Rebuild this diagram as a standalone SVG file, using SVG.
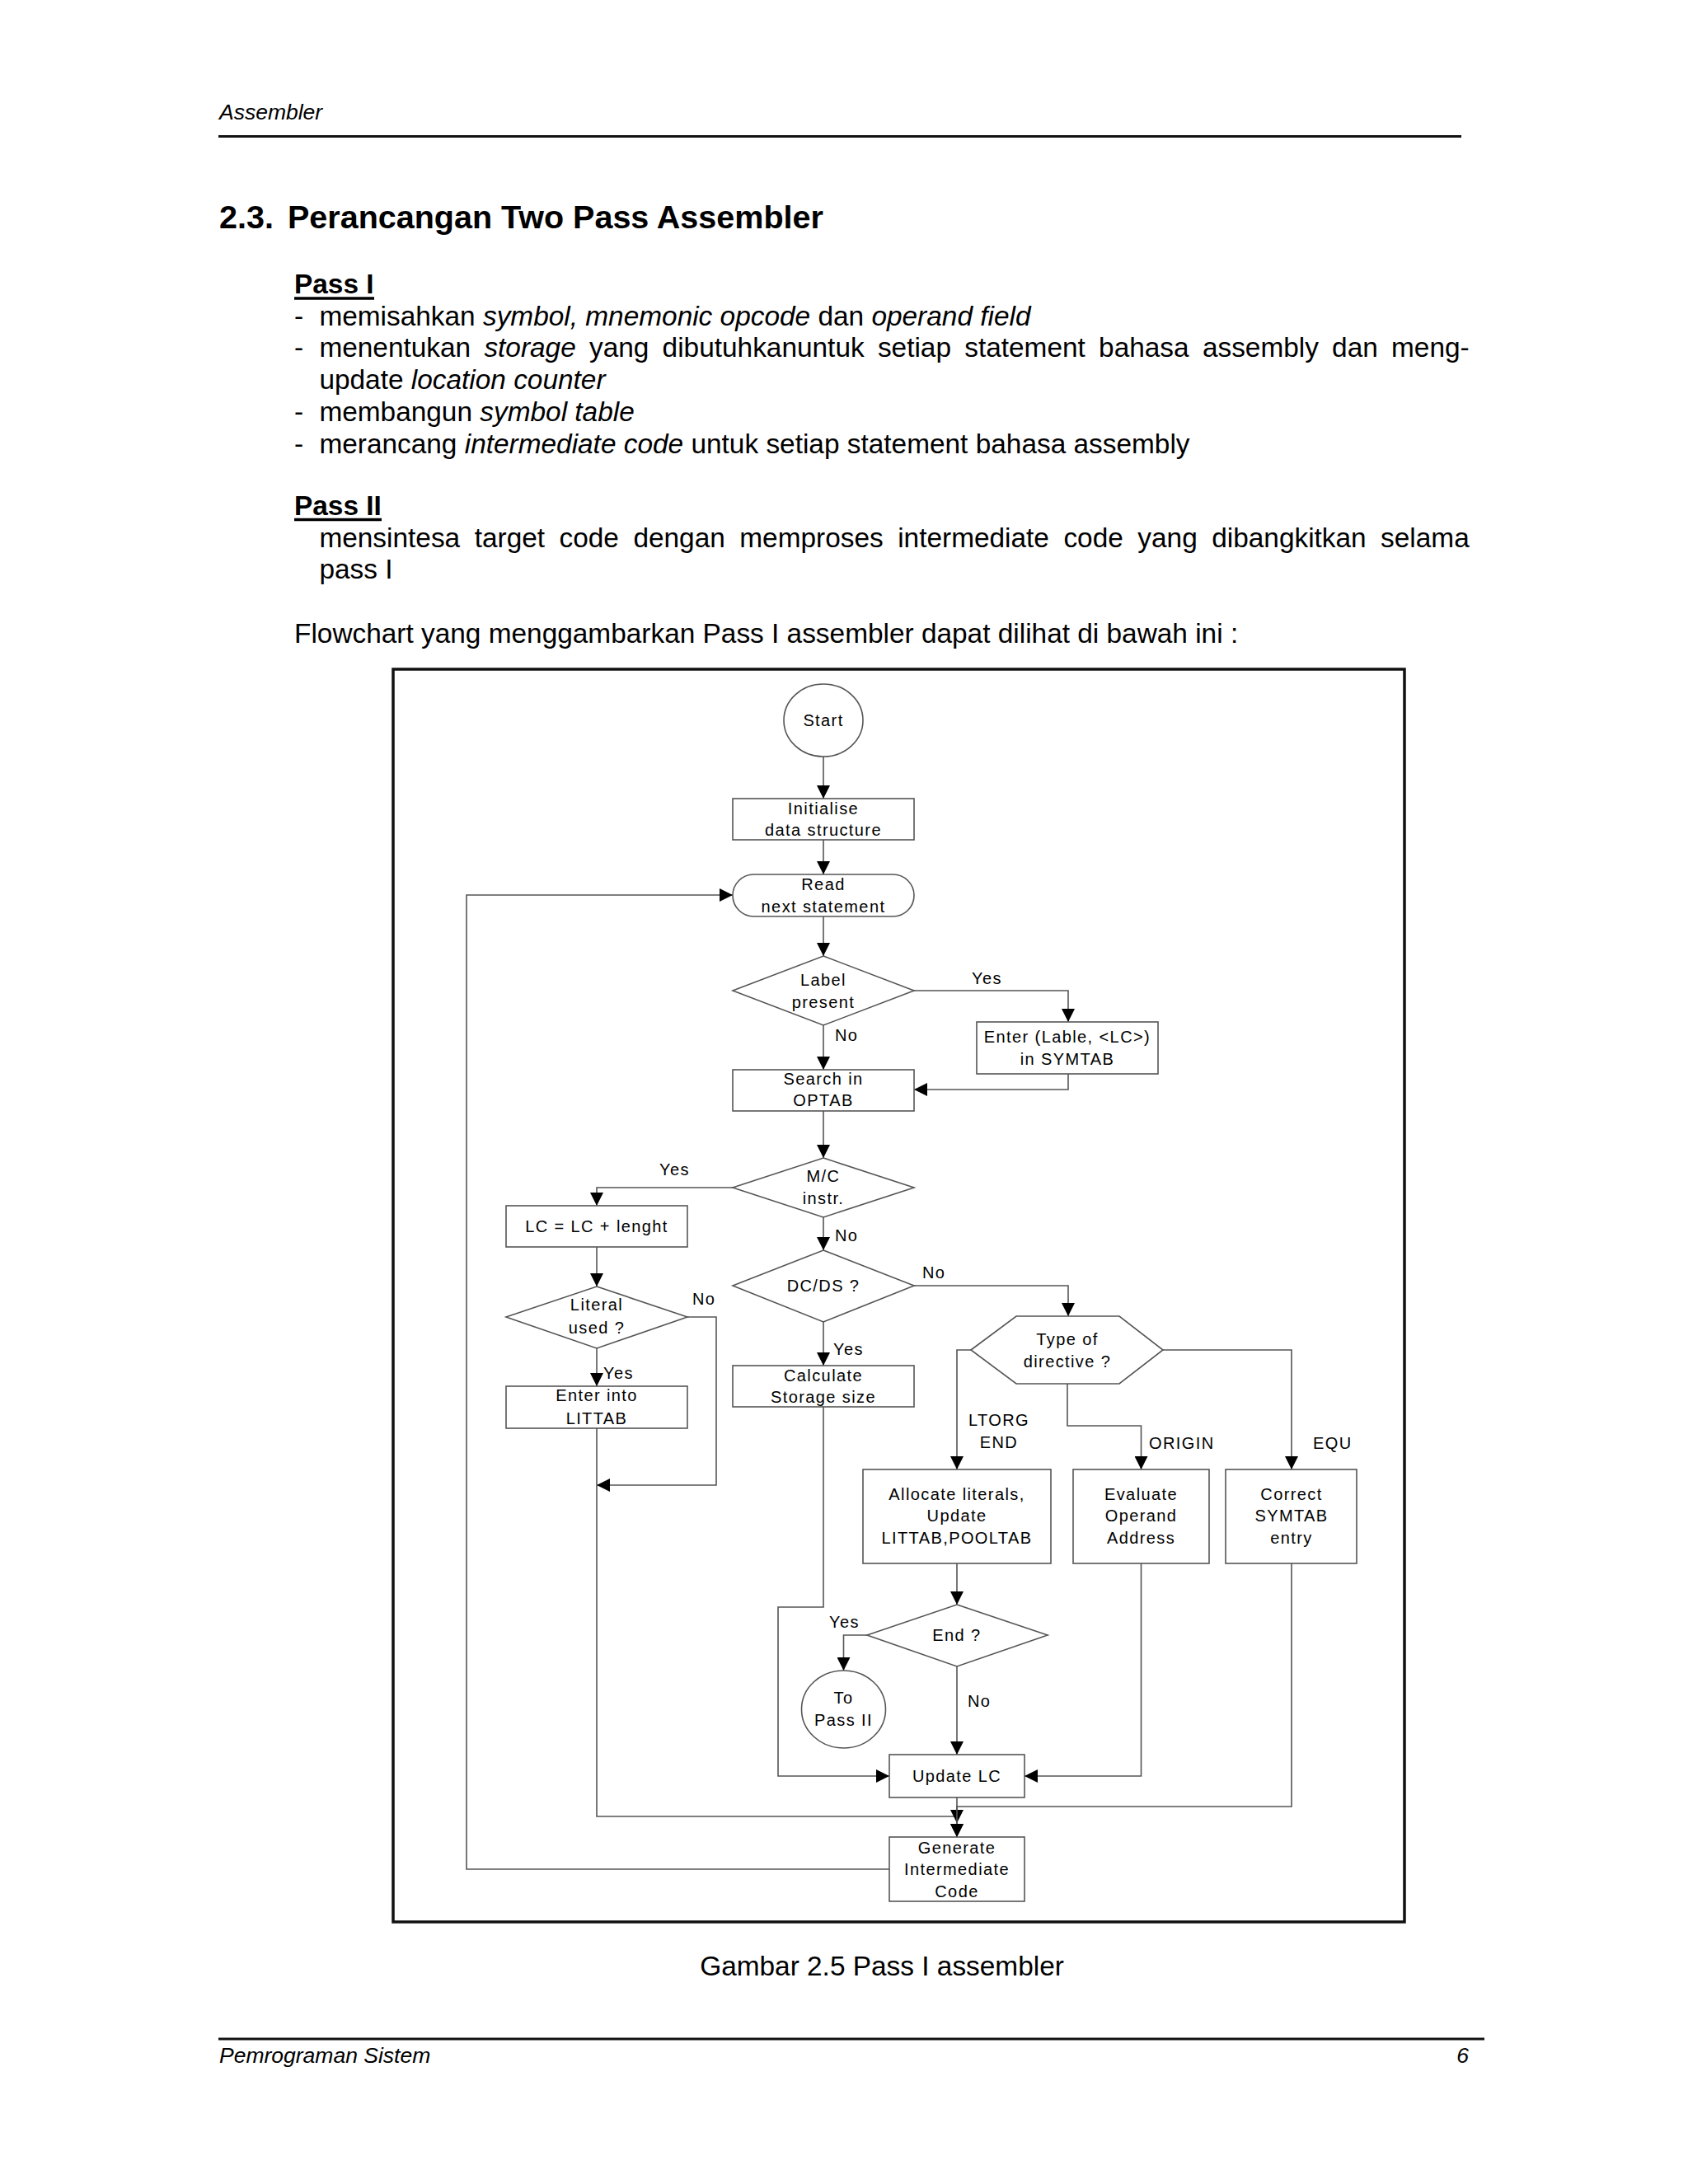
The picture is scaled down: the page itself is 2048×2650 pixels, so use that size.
<svg xmlns="http://www.w3.org/2000/svg" width="2048" height="2650" viewBox="0 0 2048 2650">
<defs>
<marker id="arr" markerUnits="userSpaceOnUse" markerWidth="16" markerHeight="16" refX="16" refY="8" orient="auto" viewBox="0 0 16 16">
<path d="M0,0 L16,8 L0,16 Z" fill="#000"/>
</marker>
<style>
.page{font-family:"Liberation Sans",Arial,sans-serif;fill:#000}
.body{font-size:33.4px}
.it{font-style:italic}
.fc{font-family:"Liberation Sans",Arial,sans-serif;font-size:20px;letter-spacing:1.4px;fill:#000;text-anchor:middle}
.lbl{font-family:"Liberation Sans",Arial,sans-serif;font-size:20px;letter-spacing:1.4px;fill:#000}
.shape{fill:#fff;stroke:#555;stroke-width:1.6}
.conn{fill:none;stroke:#555;stroke-width:1.6}
</style>
</defs>
<rect width="2048" height="2650" fill="#fff"/>

<!-- page header -->
<text class="page it" x="266" y="145" font-size="26.5">Assembler</text>
<line x1="265" y1="165.5" x2="1773" y2="165.5" stroke="#111" stroke-width="3"/>
<text class="page" x="266" y="277" font-size="39.5" font-weight="bold">2.3.</text>
<text class="page" x="349" y="277" font-size="39.5" font-weight="bold">Perancangan Two Pass Assembler</text>

<!-- Pass I -->
<text class="page body" x="357" y="356" font-weight="bold">Pass I</text>
<line x1="357" y1="362" x2="454" y2="362" stroke="#000" stroke-width="3.5"/>
<text class="page body" x="357" y="394.7">-</text>
<text class="page body" x="387.4" y="394.7">memisahkan <tspan class="it">symbol, mnemonic opcode</tspan> dan <tspan class="it">operand field</tspan></text>
<text class="page body" x="357" y="433.4">-</text>
<text class="page body" y="433.4"><tspan x="387.4">menentukan</tspan><tspan x="587.4" class="it">storage</tspan><tspan x="715">yang</tspan><tspan x="803.6">dibutuhkanuntuk</tspan><tspan x="1064.9">setiap</tspan><tspan x="1170.2">statement</tspan><tspan x="1333.1">bahasa</tspan><tspan x="1458.9">assembly</tspan><tspan x="1616.1">dan</tspan><tspan x="1688">meng-</tspan></text>
<text class="page body" x="387.4" y="472">update <tspan class="it">location counter</tspan></text>
<text class="page body" x="357" y="510.8">-</text>
<text class="page body" x="387.4" y="510.8">membangun <tspan class="it">symbol table</tspan></text>
<text class="page body" x="357" y="549.5">-</text>
<text class="page body" x="387.4" y="549.5">merancang <tspan class="it">intermediate code</tspan> untuk setiap statement bahasa assembly</text>

<!-- Pass II -->
<text class="page body" x="357" y="624.5" font-weight="bold">Pass II</text>
<line x1="357" y1="630.5" x2="463" y2="630.5" stroke="#000" stroke-width="3.5"/>
<text class="page body" y="663.5"><tspan x="387.4">mensintesa</tspan><tspan x="575.7">target</tspan><tspan x="678.5">code</tspan><tspan x="768.4">dengan</tspan><tspan x="897.3">memproses</tspan><tspan x="1089.2">intermediate</tspan><tspan x="1290.4">code</tspan><tspan x="1380.3">yang</tspan><tspan x="1470.2">dibangkitkan</tspan><tspan x="1675.1">selama</tspan></text>
<text class="page body" x="387.4" y="702.2">pass I</text>
<text class="page body" x="357" y="780">Flowchart yang menggambarkan Pass I assembler dapat dilihat di bawah ini :</text>

<!-- frame -->
<rect x="477" y="812" width="1227" height="1520" fill="none" stroke="#111" stroke-width="3.5"/>

<!-- connectors -->
<g id="connectors">
<path class="conn" d="M999,918 V969" marker-end="url(#arr)"/>
<path class="conn" d="M999,1019 V1061" marker-end="url(#arr)"/>
<path class="conn" d="M999,1112 V1160" marker-end="url(#arr)"/>
<path class="conn" d="M1109,1202 H1296 V1240" marker-end="url(#arr)"/>
<path class="conn" d="M999,1244 V1298" marker-end="url(#arr)"/>
<path class="conn" d="M1296,1303 V1322 H1109" marker-end="url(#arr)"/>
<path class="conn" d="M999,1348 V1405" marker-end="url(#arr)"/>
<path class="conn" d="M889,1441 H724 V1463" marker-end="url(#arr)"/>
<path class="conn" d="M999,1477 V1517" marker-end="url(#arr)"/>
<path class="conn" d="M724,1513 V1561" marker-end="url(#arr)"/>
<path class="conn" d="M834,1598 H869 V1802 H724" marker-end="url(#arr)"/>
<path class="conn" d="M724,1636 V1682" marker-end="url(#arr)"/>
<path class="conn" d="M724,1733 V2204 H1161 V2229" marker-end="url(#arr)"/>
<path class="conn" d="M999,1707 V1950 H944 V2155 H1079" marker-end="url(#arr)"/>
<path class="conn" d="M1109,1560 H1296 V1597" marker-end="url(#arr)"/>
<path class="conn" d="M999,1604 V1657" marker-end="url(#arr)"/>
<path class="conn" d="M1178,1638 H1161 V1783" marker-end="url(#arr)"/>
<path class="conn" d="M1295,1679 V1730 H1384.5 V1783" marker-end="url(#arr)"/>
<path class="conn" d="M1411,1638 H1567 V1783" marker-end="url(#arr)"/>
<path class="conn" d="M1161,1897 V1947" marker-end="url(#arr)"/>
<path class="conn" d="M1052,1984 H1023.5 V2027" marker-end="url(#arr)"/>
<path class="conn" d="M1161,2022 V2129" marker-end="url(#arr)"/>
<path class="conn" d="M1384.5,1897 V2155 H1243" marker-end="url(#arr)"/>
<path class="conn" d="M1567,1897 V2192 H1161 V2212" marker-end="url(#arr)"/>
<path class="conn" d="M1161,2181 V2229" marker-end="url(#arr)"/>
<path class="conn" d="M1079,2268 H566 V1086 H889" marker-end="url(#arr)"/>
</g>

<g id="edge-labels">
<text class="lbl" x="1179" y="1194">Yes</text>
<text class="lbl" x="1013" y="1263">No</text>
<text class="lbl" x="800" y="1426">Yes</text>
<text class="lbl" x="1013" y="1506">No</text>
<text class="lbl" x="1119" y="1551">No</text>
<text class="lbl" x="1011" y="1644">Yes</text>
<text class="lbl" x="840" y="1583">No</text>
<text class="lbl" x="732" y="1673">Yes</text>
<text class="fc" x="1212" y="1730">LTORG</text>
<text class="fc" x="1212" y="1757">END</text>
<text class="lbl" x="1394" y="1758">ORIGIN</text>
<text class="lbl" x="1593" y="1758">EQU</text>
<text class="lbl" x="1006" y="1975">Yes</text>
<text class="lbl" x="1174" y="2071">No</text>
</g>

<!-- nodes -->
<g id="start"><ellipse class="shape" cx="999" cy="874" rx="48" ry="44"/><text class="fc" x="999" y="881">Start</text></g>
<g id="init"><rect class="shape" x="889" y="969" width="220" height="50"/><text class="fc" x="999" y="988">Initialise</text><text class="fc" x="999" y="1014">data structure</text></g>
<g id="read"><rect class="shape" x="889" y="1061" width="220" height="51" rx="25.5"/><text class="fc" x="999" y="1080">Read</text><text class="fc" x="999" y="1107">next statement</text></g>
<g id="label-present"><polygon class="shape" points="999,1160 1109,1202 999,1244 889,1202"/><text class="fc" x="999" y="1195.5">Label</text><text class="fc" x="999" y="1223">present</text></g>
<g id="enter-symtab"><rect class="shape" x="1185" y="1240" width="220" height="63"/><text class="fc" x="1295" y="1265">Enter (Lable, &lt;LC&gt;)</text><text class="fc" x="1295" y="1292">in SYMTAB</text></g>
<g id="search-optab"><rect class="shape" x="889" y="1298" width="220" height="50"/><text class="fc" x="999" y="1316">Search in</text><text class="fc" x="999" y="1342">OPTAB</text></g>
<g id="mc-instr"><polygon class="shape" points="999,1405 1109,1441 999,1477 889,1441"/><text class="fc" x="999" y="1434">M/C</text><text class="fc" x="999" y="1461">instr.</text></g>
<g id="lc-length"><rect class="shape" x="614" y="1463" width="220" height="50"/><text class="fc" x="724" y="1495">LC = LC + lenght</text></g>
<g id="literal-used"><polygon class="shape" points="724,1561 834,1598 724,1636 614,1598"/><text class="fc" x="724" y="1590">Literal</text><text class="fc" x="724" y="1618">used ?</text></g>
<g id="enter-littab"><rect class="shape" x="614" y="1682" width="220" height="51"/><text class="fc" x="724" y="1700">Enter into</text><text class="fc" x="724" y="1728">LITTAB</text></g>
<g id="dcds"><polygon class="shape" points="999,1517 1109,1560 999,1604 889,1560"/><text class="fc" x="999" y="1567">DC/DS ?</text></g>
<g id="calc-storage"><rect class="shape" x="889" y="1657" width="220" height="50"/><text class="fc" x="999" y="1676">Calculate</text><text class="fc" x="999" y="1702">Storage size</text></g>
<g id="type-directive"><polygon class="shape" points="1178,1638 1233,1597 1358,1597 1411,1638 1358,1679 1233,1679"/><text class="fc" x="1295" y="1632">Type of</text><text class="fc" x="1295" y="1659">directive ?</text></g>
<g id="allocate"><rect class="shape" x="1047" y="1783" width="228" height="114"/><text class="fc" x="1161" y="1820">Allocate literals,</text><text class="fc" x="1161" y="1846">Update</text><text class="fc" x="1161" y="1873">LITTAB,POOLTAB</text></g>
<g id="evaluate"><rect class="shape" x="1302" y="1783" width="165" height="114"/><text class="fc" x="1384.5" y="1820">Evaluate</text><text class="fc" x="1384.5" y="1846">Operand</text><text class="fc" x="1384.5" y="1873">Address</text></g>
<g id="correct"><rect class="shape" x="1487" y="1783" width="159" height="114"/><text class="fc" x="1567" y="1820">Correct</text><text class="fc" x="1567" y="1846">SYMTAB</text><text class="fc" x="1567" y="1873">entry</text></g>
<g id="end"><polygon class="shape" points="1161,1947 1271,1984 1161,2022 1052,1984"/><text class="fc" x="1161" y="1991">End ?</text></g>
<g id="to-pass2"><ellipse class="shape" cx="1023.5" cy="2074" rx="51" ry="47"/><text class="fc" x="1023.5" y="2067">To</text><text class="fc" x="1023.5" y="2094">Pass II</text></g>
<g id="update-lc"><rect class="shape" x="1079" y="2129" width="164" height="52"/><text class="fc" x="1161" y="2162">Update LC</text></g>
<g id="generate"><rect class="shape" x="1079" y="2229" width="164" height="78"/><text class="fc" x="1161" y="2249">Generate</text><text class="fc" x="1161" y="2275">Intermediate</text><text class="fc" x="1161" y="2302">Code</text></g>

<!-- caption & footer -->
<text class="page body" x="1070" y="2397" text-anchor="middle">Gambar 2.5 Pass I assembler</text>
<line x1="265" y1="2474" x2="1801" y2="2474" stroke="#111" stroke-width="3"/>
<text class="page it" x="266" y="2503" font-size="26.5">Pemrograman Sistem</text>
<text class="page it" x="1782" y="2503" font-size="26.5" text-anchor="end">6</text>
</svg>
